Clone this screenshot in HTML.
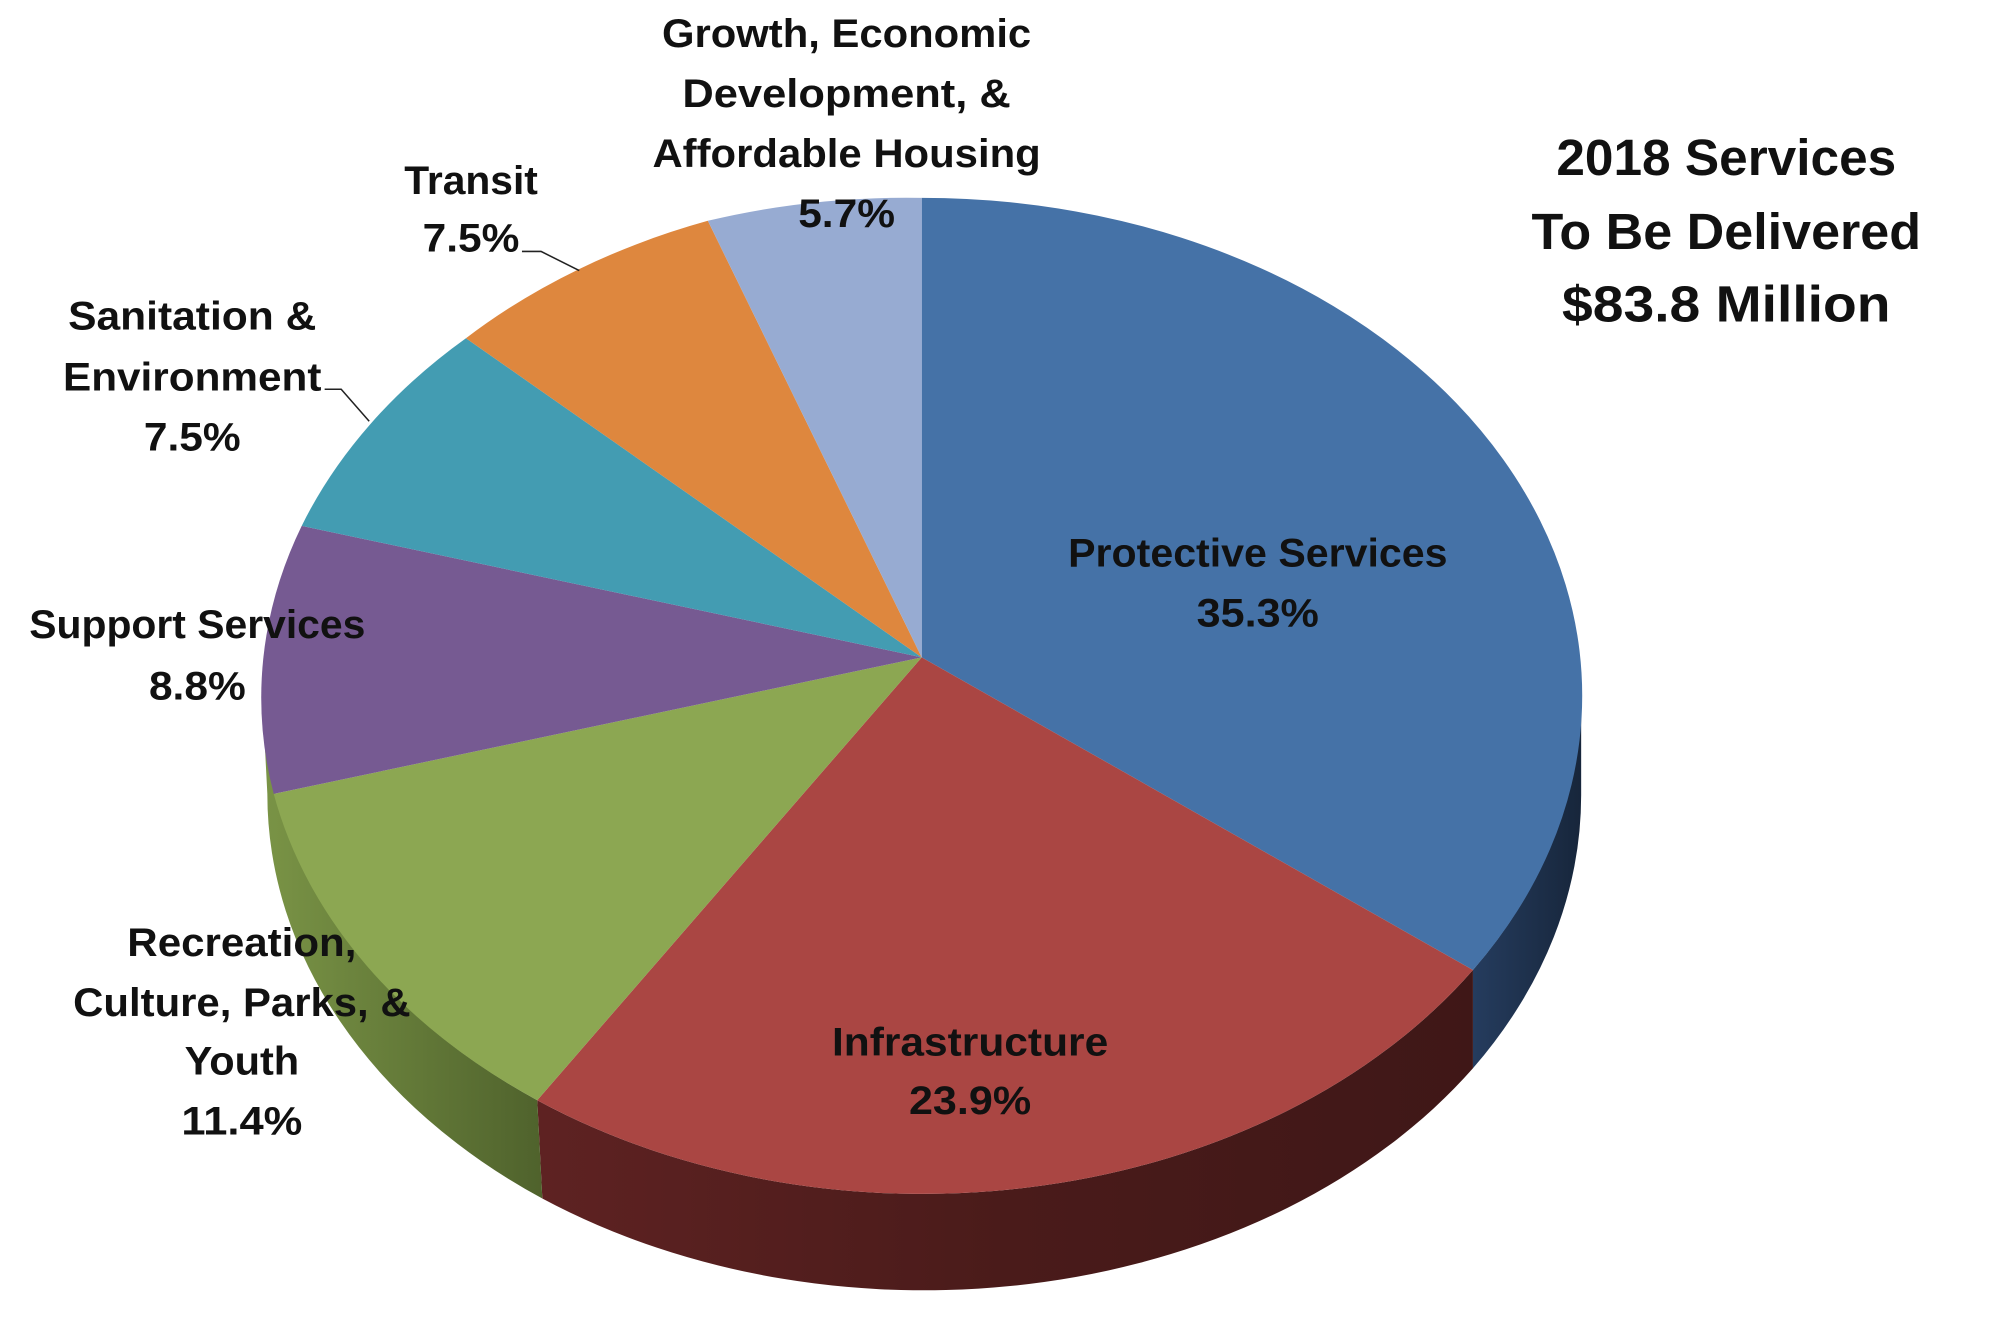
<!DOCTYPE html>
<html><head><meta charset="utf-8">
<style>
html,body{margin:0;padding:0;background:#fff;}
svg{display:block;}
text{font-family:"Liberation Sans",sans-serif;font-weight:bold;fill:#111;text-anchor:middle;}
</style></head>
<body>
<svg width="2000" height="1344" viewBox="0 0 1571 1053" preserveAspectRatio="none" xmlns="http://www.w3.org/2000/svg">
<defs>
<linearGradient id="gb" x1="0" x2="1" y1="0" y2="0"><stop offset="0" stop-color="#253c5e"/><stop offset="1" stop-color="#17263b"/></linearGradient>
<linearGradient id="gr" x1="0" x2="1" y1="0" y2="0"><stop offset="0" stop-color="#5e2222"/><stop offset="0.5" stop-color="#4a1b1a"/><stop offset="1" stop-color="#3f1717"/></linearGradient>
<linearGradient id="gg" x1="0" x2="1" y1="0" y2="0"><stop offset="0" stop-color="#7a9446"/><stop offset="1" stop-color="#4f622c"/></linearGradient>
</defs>
<path d="M1242,545 A518 390 0 0 1 1157,760 L1157,837 A518 390 0 0 0 1242,622 Z" fill="url(#gb)"/>
<path d="M1157,760 A518 390 0 0 1 422,862 L426,939 A518 390 0 0 0 1157,837 Z" fill="url(#gr)"/>
<path d="M422,862 A518 390 0 0 1 206,545 L210,622 A518 390 0 0 0 426,939 Z" fill="url(#gg)"/>
<path d="M724,515 L724,155 A518 390 0 0 1 1157,760 Z" fill="#4572a7"/>
<path d="M724,515 L1157,760 A518 390 0 0 1 422,862 Z" fill="#aa4643"/>
<path d="M724,515 L422,862 A518 390 0 0 1 215,622 Z" fill="#8ca752"/>
<path d="M724,515 L215,622 A518 390 0 0 1 237,412 Z" fill="#765a92"/>
<path d="M724,515 L237,412 A518 390 0 0 1 366,265 Z" fill="#439cb2"/>
<path d="M724,515 L366,265 A518 390 0 0 1 556,173 Z" fill="#de873e"/>
<path d="M724,515 L556,173 A518 390 0 0 1 724,155 Z" fill="#97abd2"/>
<polyline points="410,197 425,197 455,212" fill="none" stroke="#222" stroke-width="1.2"/>
<polyline points="255,305 268,305 290,330" fill="none" stroke="#222" stroke-width="1.2"/>
<g font-size="31">
<text x="665" y="37" textLength="290" lengthAdjust="spacingAndGlyphs">Growth, Economic</text>
<text x="665" y="84" textLength="258" lengthAdjust="spacingAndGlyphs">Development, &amp;</text>
<text x="665" y="131" textLength="305" lengthAdjust="spacingAndGlyphs">Affordable Housing</text>
<text x="665" y="178" textLength="76" lengthAdjust="spacingAndGlyphs">5.7%</text>
<text x="370" y="152" textLength="105" lengthAdjust="spacingAndGlyphs">Transit</text>
<text x="370" y="197" textLength="76" lengthAdjust="spacingAndGlyphs">7.5%</text>
<text x="151" y="258" textLength="195" lengthAdjust="spacingAndGlyphs">Sanitation &amp;</text>
<text x="151" y="306" textLength="203" lengthAdjust="spacingAndGlyphs">Environment</text>
<text x="151" y="353" textLength="76" lengthAdjust="spacingAndGlyphs">7.5%</text>
<text x="155" y="500" textLength="264" lengthAdjust="spacingAndGlyphs">Support Services</text>
<text x="155" y="548" textLength="76" lengthAdjust="spacingAndGlyphs">8.8%</text>
<text x="190" y="749" textLength="180" lengthAdjust="spacingAndGlyphs">Recreation,</text>
<text x="190" y="796" textLength="265" lengthAdjust="spacingAndGlyphs">Culture, Parks, &amp;</text>
<text x="190" y="842" textLength="90" lengthAdjust="spacingAndGlyphs">Youth</text>
<text x="190" y="889" textLength="95" lengthAdjust="spacingAndGlyphs">11.4%</text>
<text x="988" y="444" textLength="298" lengthAdjust="spacingAndGlyphs">Protective Services</text>
<text x="988" y="491" textLength="96" lengthAdjust="spacingAndGlyphs">35.3%</text>
<text x="762" y="827" textLength="217" lengthAdjust="spacingAndGlyphs">Infrastructure</text>
<text x="762" y="873" textLength="96" lengthAdjust="spacingAndGlyphs">23.9%</text>
</g>
<g font-size="40">
<text x="1356" y="137" textLength="267" lengthAdjust="spacingAndGlyphs">2018 Services</text>
<text x="1356" y="195" textLength="306" lengthAdjust="spacingAndGlyphs">To Be Delivered</text>
<text x="1356" y="252" textLength="258" lengthAdjust="spacingAndGlyphs">$83.8 Million</text>
</g>
</svg>
</body></html>
